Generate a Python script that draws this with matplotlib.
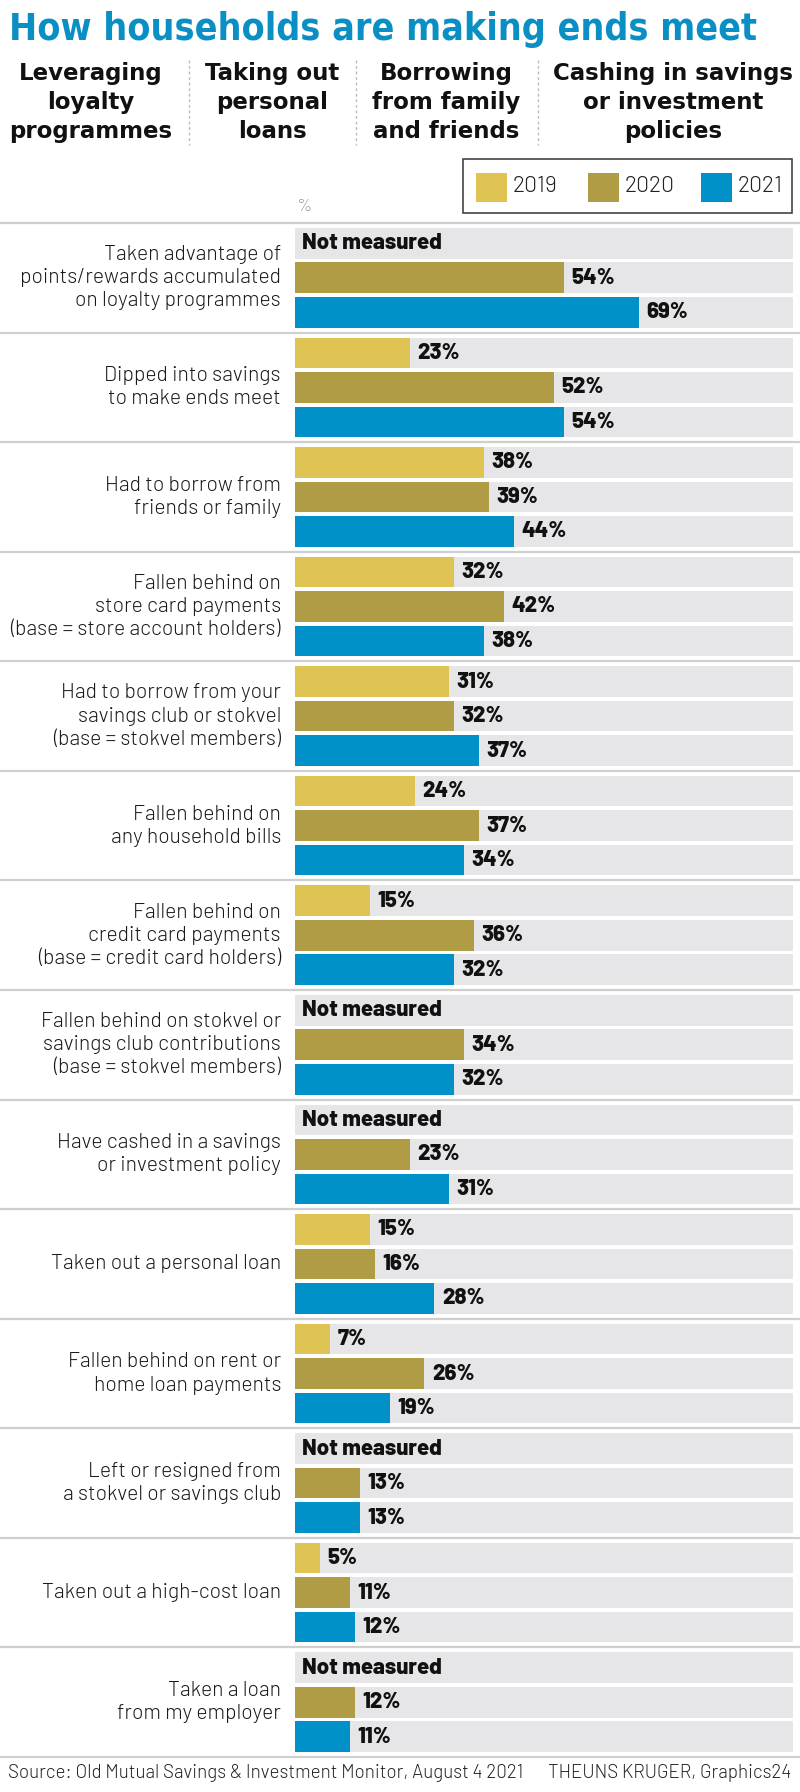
import matplotlib
matplotlib.use("Agg")
import matplotlib.pyplot as plt
from matplotlib.patches import Rectangle
from matplotlib.transforms import blended_transform_factory
import numpy as np

# ---------------- data ----------------
categories = [
    "Taken advantage of\npoints/rewards accumulated\non loyalty programmes",
    "Dipped into savings\nto make ends meet",
    "Had to borrow from\nfriends or family",
    "Fallen behind on\nstore card payments\n(base = store account holders)",
    "Had to borrow from your\nsavings club or stokvel\n(base = stokvel members)",
    "Fallen behind on\nany household bills",
    "Fallen behind on\ncredit card payments\n(base = credit card holders)",
    "Fallen behind on stokvel or\nsavings club contributions\n(base = stokvel members)",
    "Have cashed in a savings\nor investment policy",
    "Taken out a personal loan",
    "Fallen behind on rent or\nhome loan payments",
    "Left or resigned from\na stokvel or savings club",
    "Taken out a high-cost loan",
    "Taken a loan\nfrom my employer",
]
years = ["2019", "2020", "2021"]
v2019 = [None, 23, 38, 32, 31, 24, 15, None, None, 15, 7, None, 5, None]
v2020 = [54, 52, 39, 42, 32, 37, 36, 34, 23, 16, 26, 13, 11, 12]
v2021 = [69, 54, 44, 38, 37, 34, 32, 32, 31, 28, 19, 13, 12, 11]
headers = ["Leveraging\nloyalty\nprogrammes", "Taking out\npersonal\nloans",
           "Borrowing\nfrom family\nand friends", "Cashing in savings\nor investment\npolicies"]
title = "How households are making ends meet"
source = "Source: Old Mutual Savings & Investment Monitor, August 4 2021"
credit = "THEUNS KRUGER, Graphics24"

# ---------------- style ----------------
colors = ["#dfc453", "#b09c45", "#0091c8"]
gray_bg = "#e6e6e8"
sep_col = "#cfcfcf"
title_col = "#0a8fc4"
FAM = ["Barlow", "DejaVu Sans"]
FAM_H = ["DejaVu Sans"]

W, H = 800, 1792
fig = plt.figure(figsize=(W / 100, H / 100), dpi=100)


def fx(px):
    return px / W


def fy(py):
    return 1 - py / H


# ---------------- main axes ----------------
top_px, bot_px = 223, 1757
left_px, right_px = 295, 793
ax = fig.add_axes([fx(left_px), fy(bot_px), fx(right_px - left_px), (bot_px - top_px) / H])
n = len(categories)
ax.set_xlim(0, 100 * (right_px - left_px) / 498)
ax.set_ylim(n, 0)
ax.axis("off")

bh = 0.28
offs = [-0.315, 0.0, 0.315]
series = [v2019, v2020, v2021]
idx = np.arange(n)
for k, vals in enumerate(series):
    yc = idx + 0.5 + offs[k]
    ax.barh(yc, [100] * n, height=bh, color=gray_bg, left=0, zorder=1)
    w = [v if v is not None else 0 for v in vals]
    ax.barh(yc, w, height=bh, color=colors[k], zorder=2)
    for i, v in enumerate(vals):
        if v is None:
            ax.text(1.4, yc[i], "Not measured", va="center", ha="left", fontsize=16,
                    fontweight=800, family=FAM, color="#111111", zorder=3)
        else:
            ax.text(v + 1.5, yc[i], f"{v}%", va="center", ha="left", fontsize=15.8,
                    fontweight=800, family=FAM, color="#111111", zorder=3)

# separators, full width
tr = blended_transform_factory(fig.transFigure, ax.transData)
for i in range(n + 1):
    ax.plot([0, 1], [i, i], transform=tr, color=sep_col, lw=1.6, clip_on=False, zorder=0)

# category labels
for i, c in enumerate(categories):
    ax.text(fx(281), i + 0.5, c, transform=tr, ha="right", va="center", fontsize=15.2,
            family=FAM, fontweight=300, color="#1a1a1a", linespacing=1.28)

# ---------------- title / header ----------------
fig.text(fx(9), fy(39.5), title, ha="left", va="baseline", fontsize=26.9, fontweight="bold",
         family=FAM_H, fontstretch="condensed", color=title_col)
hx = [91, 272, 446, 673]
for x, h in zip(hx, headers):
    fig.text(fx(x), fy(137.6), h, ha="center", va="baseline", fontsize=16.5, fontweight="bold",
             family=FAM_H, color="#111111", linespacing=1.31)
for x in [189, 356, 538]:
    fig.add_artist(plt.Line2D([fx(x), fx(x)], [fy(60), fy(145)], color="#bbbbbb", lw=1,
                              ls=(0, (2, 2))))

# legend box
fig.add_artist(Rectangle((fx(463), fy(213)), fx(792 - 463), (213 - 159) / H, fill=False,
                         edgecolor="#444444", lw=1.2))
sw_x = [476, 588, 701]
for k, x in enumerate(sw_x):
    fig.add_artist(Rectangle((fx(x), fy(202)), fx(31), 29 / H, color=colors[k], lw=0))
    fig.text(fx(x + 37), fy(187), years[k], ha="left", va="center", fontsize=16.5,
             family=FAM, fontweight=300, color="#222222")

fig.text(fx(296), fy(207), "%", ha="left", va="center", fontsize=13, family=FAM,
         fontweight=300, color="#999999")

# footer
fig.text(fx(8), fy(1773), source, ha="left", va="center", fontsize=13.5, family=FAM,
         fontweight=300, color="#222222")
fig.text(fx(791), fy(1773), credit, ha="right", va="center", fontsize=13.5, family=FAM,
         fontweight=300, color="#222222")

fig.savefig("out.png", dpi=100)
